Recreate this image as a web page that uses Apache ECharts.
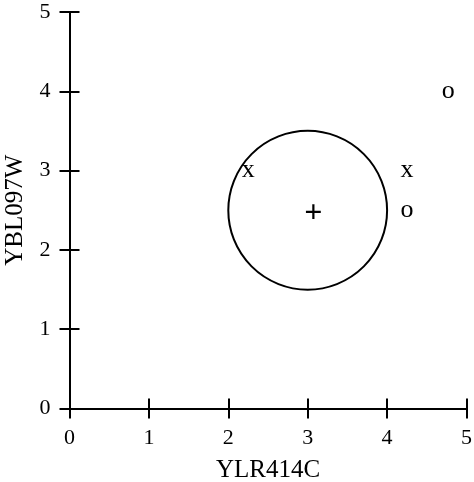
<!DOCTYPE html>
<html lang="en">
<head>
    <meta charset="UTF-8">
    <title>YLR414C vs YBL097W</title>
    <script src="https://cdn.jsdelivr.net/npm/echarts@6.0.0/dist/echarts.min.js"></script>
    <style>
        html, body { margin: 0; padding: 0; background: #fff; }
    </style>
</head>
<body>

<div id="main" style="width: 474px;height:482px;"></div>
<script type="text/javascript">

    // marker positions and the letter drawn at each
    let markX = [2.25, 4.25, 4.25, 4.77, 3.07];
    let markY = [3.0, 3.0, 2.5, 4.0, 2.5];
    let markText = ['x', 'x', 'o', 'o', '+'];

    // circle: centre and radius in data units
    let circleCenter = [3, 2.5];
    let circleRadius = [1];

    let axisTicks = [0, 1, 2, 3, 4, 5];

    let serif = "'Liberation Serif', 'DejaVu Serif', serif";
    let marks = markX.map((x, i) => [x, markY[i], markText[i]]);

    // ticks cross the axis: the twin axis sits 10px inside and draws
    // 20px ticks outward, so they reach 10px past the main line
    function makeAxis(pos, name, main) {
        return {
            type: 'value',
            position: pos,
            offset: main ? 0 : -10,
            min: axisTicks[0],
            max: axisTicks[axisTicks.length - 1],
            interval: 1,
            name: main ? name : '',
            nameLocation: 'middle',
            nameGap: pos === 'bottom' ? 49 : 42,
            nameTextStyle: {
                color: '#000',
                fontFamily: serif,
                fontSize: 25
            },
            axisLine: {
                show: main,
                onZero: false,
                lineStyle: { color: '#000', width: 2 }
            },
            axisTick: {
                show: !main,
                length: 20,
                lineStyle: { color: '#000', width: 2 }
            },
            axisLabel: {
                show: main,
                color: '#000',
                fontFamily: serif,
                fontSize: 22,
                margin: 19
            },
            splitLine: { show: false }
        };
    }

    option = {
        backgroundColor: '#fff',
        animation: false,
        grid: {
            left: 69.5,
            right: 7.5,
            top: 12,
            bottom: 73.5,
            containLabel: false,
            outerBoundsMode: 'none'
        },
        xAxis: [makeAxis('bottom', 'YLR414C', true), makeAxis('bottom', '', false)],
        yAxis: [makeAxis('left', 'YBL097W', true), makeAxis('left', '', false)],
        series: [{
            name: 'circle',
            type: 'custom',
            xAxisIndex: 0,
            yAxisIndex: 0,
            renderItem: function (params, api) {
                let c = api.coord([api.value(0), api.value(1)]);
                let s = api.size([api.value(2), api.value(2)]);
                return {
                    type: 'circle',
                    shape: { cx: c[0], cy: c[1], r: s[0] },
                    style: { fill: 'none', stroke: '#000', lineWidth: 2 }
                };
            },
            data: [[circleCenter[0], circleCenter[1], circleRadius[0]]]
        }, {
            name: 'marks',
            type: 'custom',
            xAxisIndex: 0,
            yAxisIndex: 0,
            renderItem: function (params, api) {
                let c = api.coord([api.value(0), api.value(1)]);
                let t = marks[params.dataIndex][2];
                let plus = t === '+';
                return {
                    type: 'text',
                    x: c[0],
                    // the plus glyph sits high in its line box
                    y: c[1] + (plus ? 3 : 0),
                    style: {
                        text: t,
                        fill: '#000',
                        fontFamily: serif,
                        fontSize: plus ? 32 : 26,
                        fontWeight: plus ? 'bold' : 'normal',
                        align: 'center',
                        verticalAlign: 'middle'
                    }
                };
            },
            data: marks
        }, {
            // empty series so the twin axes are laid out and drawn
            name: 'twin',
            type: 'scatter',
            xAxisIndex: 1,
            yAxisIndex: 1,
            symbolSize: 0,
            data: []
        }]
    };

    let myChart = echarts.init(document.getElementById('main'));
    myChart.setOption(option)
</script>
</body>
</html>
